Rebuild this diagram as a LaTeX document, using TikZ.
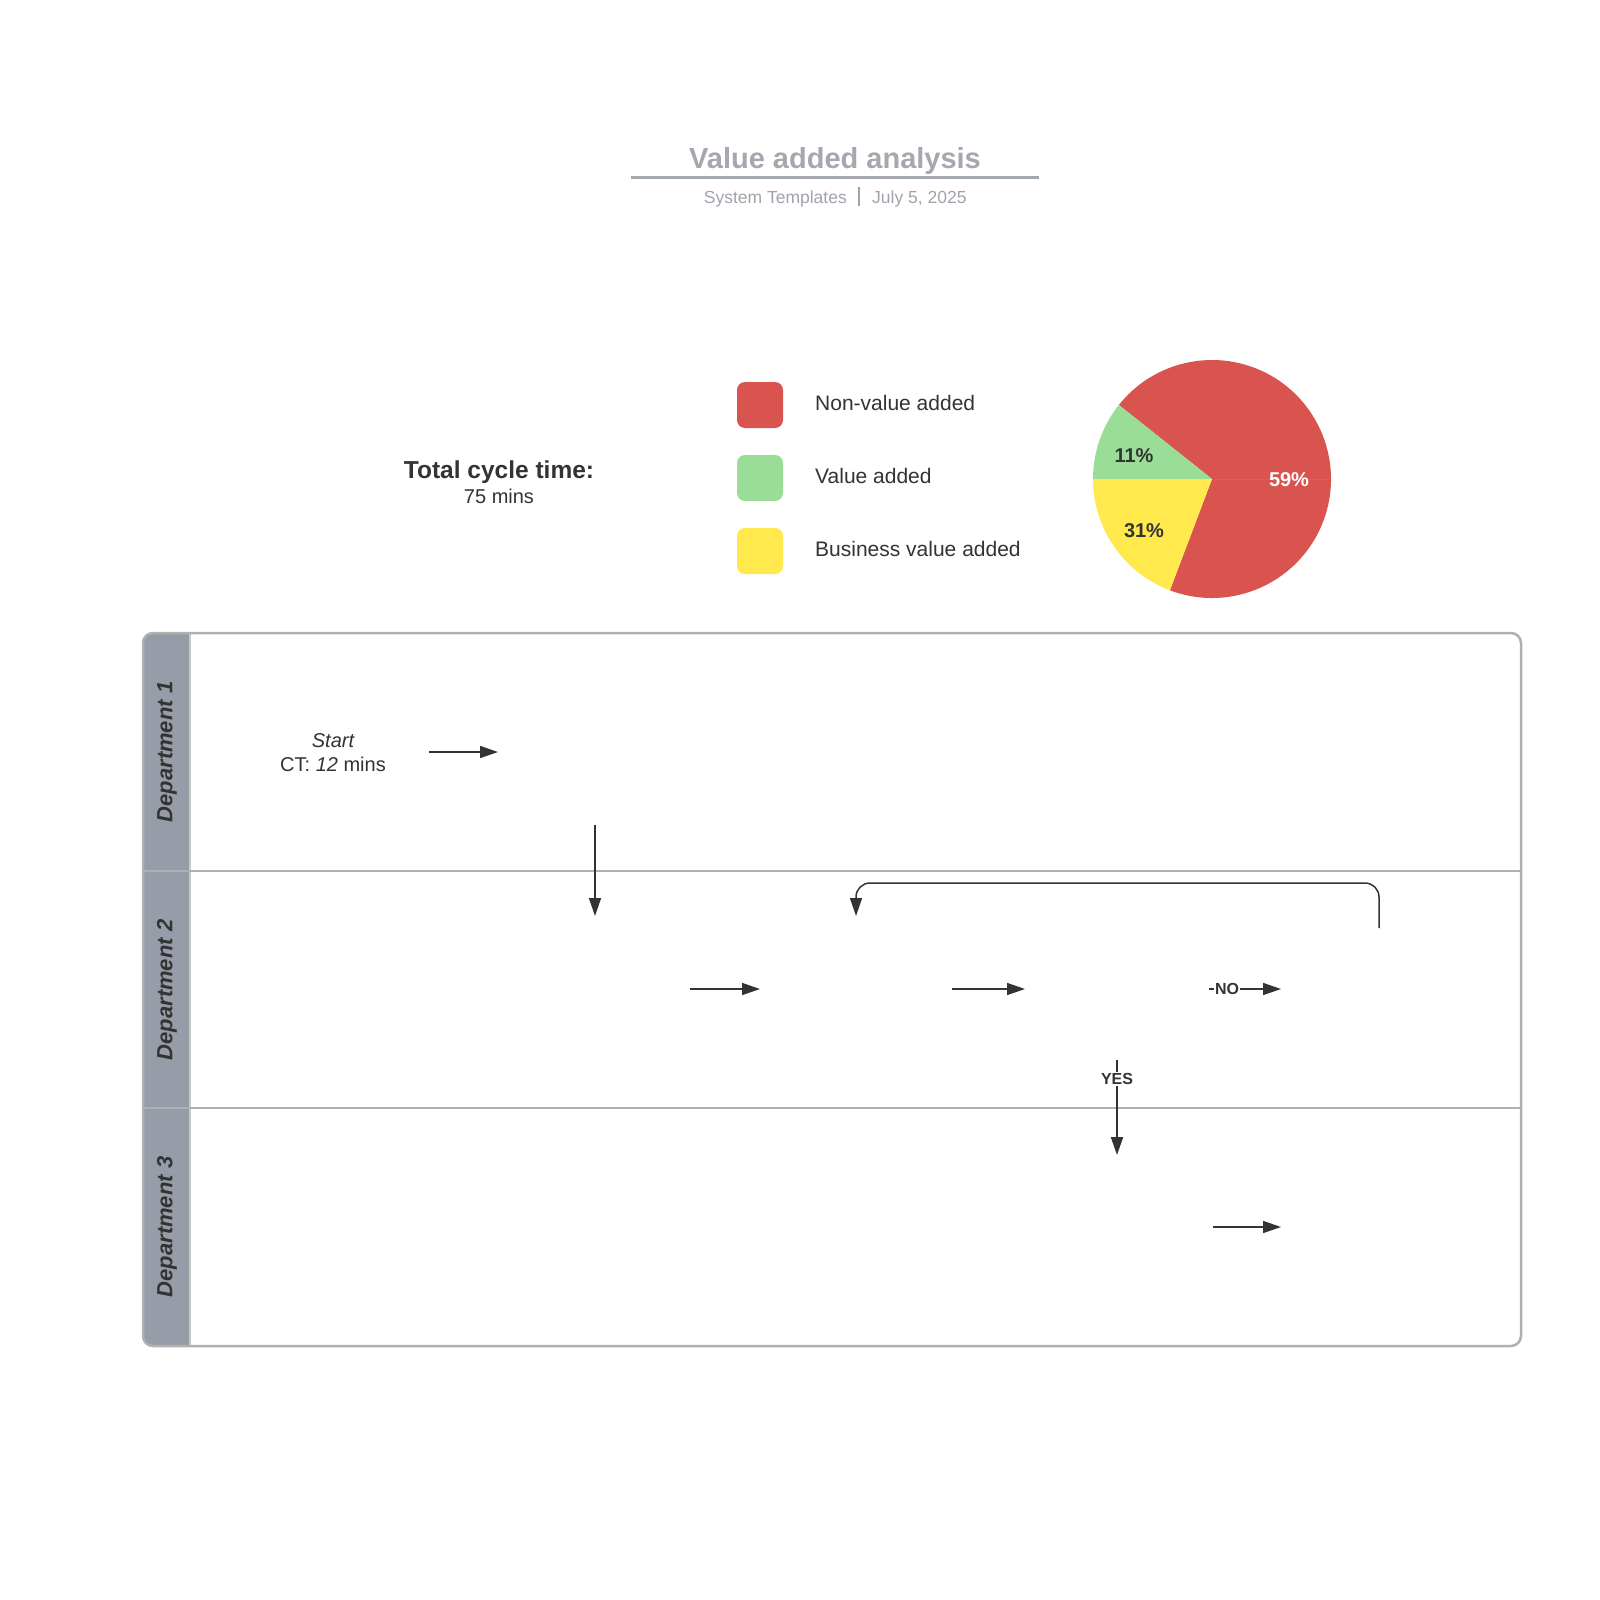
\documentclass[tikz,border=0pt]{standalone}
\usepackage{fontspec}
\setmainfont{Liberation Sans}
\usetikzlibrary{arrows.meta}
\definecolor{nva}{HTML}{D9534F}
\definecolor{va}{HTML}{99DD97}
\definecolor{bva}{HTML}{FFE94D}
\definecolor{ink}{HTML}{333333}
\definecolor{titlegray}{HTML}{A4A8AF}
\definecolor{subgray}{HTML}{A0A4AA}
\definecolor{lanegray}{HTML}{B0B0B0}
\definecolor{headgray}{HTML}{979DA8}
\definecolor{headedge}{HTML}{C8C8C8}
\begin{document}
\begin{tikzpicture}[x=1pt,y=-1pt,
  flow/.style={draw=ink,line width=1.5pt,-{Triangle[length=18pt,width=12pt]}},
  legendbox/.style={rounded corners=8pt},
  legendtext/.style={anchor=base west,text=ink,font=\fontsize{21}{25}\selectfont,inner sep=0pt},
  deptlabel/.style={rotate=90,text=ink,font=\fontsize{22}{26}\selectfont\bfseries\itshape,inner sep=0pt},
  pielabel/.style={anchor=base,font=\fontsize{20}{24}\selectfont\bfseries,inner sep=0pt},
  flowlabel/.style={fill=white,text=ink,font=\fontsize{16}{19}\selectfont\bfseries,inner sep=1pt}]
\useasboundingbox (0,0) rectangle (1600,1600);
\fill[white] (0,0) rectangle (1600,1600);

% title
\node[anchor=base,text=titlegray,font=\fontsize{29}{34}\selectfont\bfseries,inner sep=0pt] (title) at (835,168) {Value added analysis};
\draw[titlegray,line width=3pt] (631,177) -- (1039,177);
\node[anchor=base east,text=subgray,font=\fontsize{17.5}{21}\selectfont,inner sep=0pt] (author) at (847,203) {System Templates};
\node[anchor=base west,text=subgray,font=\fontsize{17.5}{21}\selectfont,inner sep=0pt] (date) at (872,203) {July 5, 2025};
\draw[subgray,line width=1.2pt] (859,187) -- (859,206);

% total
\node[anchor=base,text=ink,font=\fontsize{24.5}{29}\selectfont\bfseries,inner sep=0pt] (total) at (499,478) {Total cycle time:};
\node[anchor=base,text=ink,font=\fontsize{20}{24}\selectfont,inner sep=0pt] (totalval) at (499,503) {75 mins};

% legend
\fill[nva,legendbox] (737,382) rectangle (783,428);
\fill[va,legendbox] (737,455) rectangle (783,501);
\fill[bva,legendbox] (737,528) rectangle (783,574);
\node[legendtext] (l1) at (815,410) {Non-value added};
\node[legendtext] (l2) at (815,483) {Value added};
\node[legendtext] (l3) at (815,556) {Business value added};

% pie
\begin{scope}[shift={(1212,479)},yscale=-1]
  \fill[nva] (0,0) -- (249.3:119) arc[start angle=249.3,end angle=501.5,radius=119] -- cycle;
  \fill[va] (0,0) -- (141.5:119) arc[start angle=141.5,end angle=180,radius=119] -- cycle;
  \fill[bva] (0,0) -- (180:119) arc[start angle=180,end angle=249.3,radius=119] -- cycle;
  \draw[color=nva!70!orange,line width=0.8pt] (0,0) -- (0:119);
\end{scope}
\node[pielabel,text=ink] (p11) at (1134,462) {11\%};
\node[pielabel,text=ink] (p31) at (1144,537) {31\%};
\node[pielabel,text=white] (p59) at (1289,486) {59\%};

% swimlanes
\begin{scope}
  \clip[rounded corners=10pt] (143,633) rectangle (1521,1346);
  \fill[headgray] (143,633) rectangle (190,1346);
\end{scope}
\draw[headedge,line width=2pt] (190,633) -- (190,1346);
\draw[lanegray,line width=2.5pt] (143,871) -- (1521,871);
\draw[lanegray,line width=2.5pt] (143,1108) -- (1521,1108);
\draw[lanegray,line width=2.5pt,rounded corners=10pt] (143,633) rectangle (1521,1346);
\node[deptlabel] (d1) at (167,752) {Department 1};
\node[deptlabel] (d2) at (167,990) {Department 2};
\node[deptlabel] (d3) at (167,1227) {Department 3};

% start
\node[anchor=base,text=ink,font=\fontsize{20}{24}\selectfont\itshape,inner sep=0pt] (start) at (333,747) {Start};
\node[anchor=base,text=ink,font=\fontsize{20}{24}\selectfont,inner sep=0pt] (ct) at (333,771) {CT: \textit{12} mins};

% connectors
\coordinate (a1s) at (429,752); \coordinate (a1e) at (498,752);
\coordinate (a2s) at (595,825); \coordinate (a2e) at (595,916);
\coordinate (a3s) at (690,989); \coordinate (a3e) at (760,989);
\coordinate (a4s) at (952,989); \coordinate (a4e) at (1025,989);
\coordinate (a5s) at (1209,989); \coordinate (a5e) at (1281,989);
\coordinate (a6s) at (1379,928); \coordinate (a6m) at (1117,883); \coordinate (a6e) at (856,916);
\coordinate (a7s) at (1117,1060); \coordinate (a7e) at (1117,1155);
\coordinate (a8s) at (1213,1227); \coordinate (a8e) at (1281,1227);

\draw[flow] (a1s) -- (a1e);
\draw[flow] (a2s) -- (a2e);
\draw[flow] (a3s) -- (a3e);
\draw[flow] (a4s) -- (a4e);
\draw[flow] (a5s) -- node[flowlabel,pos=0.25] (no) {NO} (a5e);
\draw[flow,rounded corners=14pt] (a6s) |- (a6m) -| (a6e);
\draw[flow,line width=2pt] (a7s) -- node[flowlabel,pos=0.2] (yes) {YES} (a7e);
\draw[flow] (a8s) -- (a8e);
\end{tikzpicture}
\end{document}
